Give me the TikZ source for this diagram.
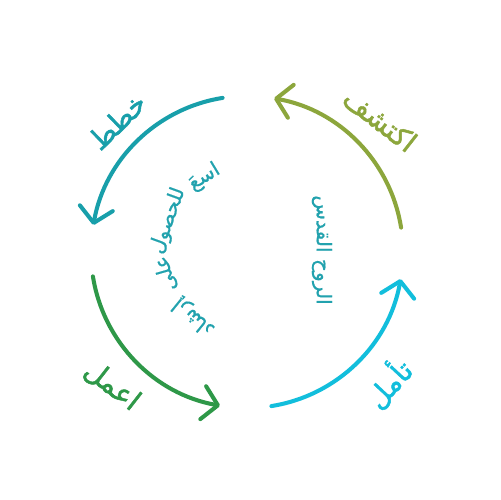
\documentclass[tikz,border=0pt]{standalone}
\usepackage{fontspec}
\usetikzlibrary{arrows.meta}
\TeXXeTstate=1
\newfontfamily\arabicfont[Script=Arabic]{DejaVu Sans}
\newfontfamily\arabicmed[Script=Arabic,FakeBold=1.6]{DejaVu Sans}
\newfontfamily\arabicsemi[Script=Arabic,FakeBold=0.7]{DejaVu Sans}
\definecolor{colOlive}{HTML}{8CA63C}
\definecolor{colTeal}{HTML}{189FAA}
\definecolor{colGreen}{HTML}{2E9848}
\definecolor{colCyan}{HTML}{12BEDC}
\definecolor{colText}{HTML}{22A2AE}
\begin{document}
\begin{tikzpicture}[x=0.02cm,y=0.02cm,
  cyclearc/.style={line width=2.3pt, line cap=round,
    -{Straight Barb[length=8.5pt,width=19pt,round]}},
  lab/.style={inner sep=0pt, font=\arabicmed\fontsize{16}{18}\selectfont},
  inner/.style={inner sep=0pt, text=colText, font=\arabicsemi\fontsize{11.5}{14}\selectfont}]
\fill[white] (0,0) rectangle (500,500);
\useasboundingbox (0,0) rectangle (500,500);
\coordinate (C) at (247,248);
\coordinate (T) at (248,250);
% arc start points
\path (C) ++(9:156) coordinate (s1);
\path (C) ++(99:156) coordinate (s2);
\path (C) ++(189:156) coordinate (s3);
\path (C) ++(279:156) coordinate (s4);
\draw[cyclearc, colOlive] (s1) arc[start angle=9, end angle=80, radius=156];
\draw[cyclearc, colTeal] (s2) arc[start angle=99, end angle=170, radius=156];
\draw[cyclearc, colGreen] (s3) arc[start angle=189, end angle=260, radius=156];
\draw[cyclearc, colCyan] (s4) arc[start angle=279, end angle=350, radius=156];
% labels
\node[lab, text=colOlive, rotate=-38] (l1) at (380,380) {\beginR اكتشف\endR};
\node[lab, text=colTeal, rotate=44] (l2) at (117,379) {\beginR خطط\endR};
\node[lab, text=colGreen, rotate=-38] (l3) at (112,114) {\beginR اعمل\endR};
\node[lab, text=colCyan, rotate=47] (l4) at (388,117) {\beginR تأمل\endR};
% inner curved text
\path (T) ++(121:85) node[inner, rotate=31] (w1) {\beginR اسعَ\endR};
\path (T) ++(160:85) node[inner, rotate=70] (w2) {\beginR للحصول\endR};
\path (T) ++(196:86) node[inner, rotate=106] (w3) {\beginR على\endR};
\path (T) ++(231:86) node[inner, rotate=141] (w4) {\beginR إرشاد\endR};
\node[inner, rotate=-90] (r1) at (322,250) {\beginR الروح القدس\endR};
\end{tikzpicture}
\end{document}
